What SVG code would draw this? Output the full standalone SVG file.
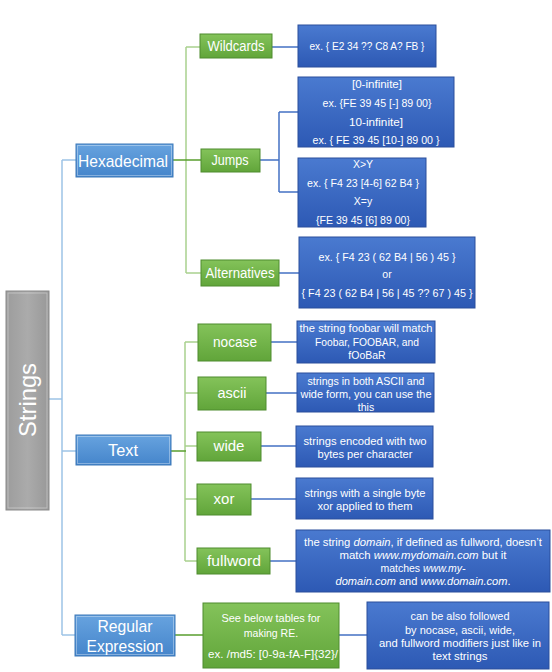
<svg xmlns="http://www.w3.org/2000/svg" width="552" height="672" viewBox="0 0 552 672">
<defs>
<linearGradient id="gBlue" x1="0" y1="0" x2="0" y2="1"><stop offset="0" stop-color="#4a7ad0"/><stop offset="1" stop-color="#2d59b4"/></linearGradient>
<linearGradient id="gLBlue" x1="0" y1="0" x2="0" y2="1"><stop offset="0" stop-color="#67a3df"/><stop offset="1" stop-color="#4585cb"/></linearGradient>
<linearGradient id="gGreen" x1="0" y1="0" x2="0" y2="1"><stop offset="0" stop-color="#84c35a"/><stop offset="1" stop-color="#61a53a"/></linearGradient>
<linearGradient id="gGray" x1="0" y1="0" x2="1" y2="0"><stop offset="0" stop-color="#9c9c9c"/><stop offset="0.5" stop-color="#ababab"/><stop offset="1" stop-color="#989898"/></linearGradient>
</defs>
<style>
text{font-family:"Liberation Sans",Arial,sans-serif;fill:#fff;text-anchor:middle}
.ex{fill:url(#gBlue);stroke:#2a4f9c;stroke-width:1}
.l1{fill:url(#gLBlue);stroke:#3d78b8;stroke-width:1}
.gr{fill:url(#gGreen);stroke:#4f8c2e;stroke-width:1}
.hl{fill:none;stroke:#ffffff;stroke-opacity:0.35;stroke-width:1}
.sm{font-size:10.5px}
.gl{font-size:14px}
.cb{fill:none;stroke:#9dc3e6;stroke-width:1.5}
.cg{fill:none;stroke:#a9d18e;stroke-width:1.5}
.cd{fill:none;stroke:#5a9e2f;stroke-width:1.5}
.cx{fill:none;stroke:#4472c4;stroke-width:1.5}
</style>
<g id="connectors">
<path class="cb" d="M49 399H62M62 160V635M62 160H76M62 451H76M62 635H75"/>
<path class="cg" d="M186 47V273M186 47H200M186 273H201M185 342V561M185 342H198M185 393H198M185 446H197M185 499H197M185 561H197"/>
<path class="cd" d="M173 160H201M171 451H186M175 635H203"/>
<path class="cx" d="M272 47H298M260 160H279M279 112V192M279 112H298M279 192H298M279 273H299M271 342H297M266 393H297M261 446H296M251 499H296M270 561H296M339 635H367"/>
</g>
<g id="strings">
<rect x="6" y="291" width="43" height="219" fill="url(#gGray)" stroke="#8a8a8a"/>
<rect x="8" y="293" width="39" height="215" class="hl"/>
<text transform="translate(36 400) rotate(-90)" font-size="24" textLength="74" lengthAdjust="spacingAndGlyphs">Strings</text>
</g>
<g id="hexadecimal">
<rect x="76" y="144" width="97" height="33" class="l1"/>
<rect x="77.5" y="145.5" width="94" height="30" class="hl"/>
<text x="123" y="167" font-size="17" textLength="90" lengthAdjust="spacingAndGlyphs">Hexadecimal</text>
</g>
<g id="text">
<rect x="76" y="435" width="95" height="30" class="l1"/>
<rect x="77.5" y="436.5" width="92" height="27" class="hl"/>
<text x="123" y="456" font-size="17" textLength="30" lengthAdjust="spacingAndGlyphs">Text</text>
</g>
<g id="regex">
<rect x="75" y="615" width="100" height="41" class="l1"/>
<rect x="76.5" y="616.5" width="97" height="38" class="hl"/>
<text x="125" y="632" font-size="17" textLength="55" lengthAdjust="spacingAndGlyphs">Regular</text>
<text x="125" y="652" font-size="17" textLength="77" lengthAdjust="spacingAndGlyphs">Expression</text>
</g>
<g id="wildcards">
<rect x="200" y="34" width="72" height="24" class="gr"/>
<text x="236" y="51" class="gl" textLength="57" lengthAdjust="spacingAndGlyphs">Wildcards</text>
</g>
<g id="wildcards-ex">
<rect x="298" y="25" width="138" height="42" class="ex"/>
<text x="367" y="50" class="sm" textLength="115" lengthAdjust="spacingAndGlyphs">ex. { E2 34 ?? C8 A? FB }</text>
</g>
<g id="jumps">
<rect x="201" y="149" width="59" height="23" class="gr"/>
<text x="230" y="165" class="gl" textLength="37" lengthAdjust="spacingAndGlyphs">Jumps</text>
</g>
<g id="jumps-ex1">
<rect x="298" y="77" width="156" height="70" class="ex"/>
<text x="377" y="88" class="sm" textLength="50" lengthAdjust="spacingAndGlyphs">[0-infinite]</text>
<text x="377" y="107" class="sm" textLength="109" lengthAdjust="spacingAndGlyphs">ex. {FE 39 45 [-] 89 00}</text>
<text x="376" y="126" class="sm" textLength="54" lengthAdjust="spacingAndGlyphs">10-infinite]</text>
<text x="376" y="144" class="sm" textLength="127" lengthAdjust="spacingAndGlyphs">ex. { FE 39 45 [10-] 89 00 }</text>
</g>
<g id="jumps-ex2">
<rect x="298" y="158" width="128" height="69" class="ex"/>
<text x="363" y="168" class="sm">X&gt;Y</text>
<text x="363" y="187" class="sm" textLength="112" lengthAdjust="spacingAndGlyphs">ex. { F4 23 [4-6] 62 B4 }</text>
<text x="363" y="205" class="sm">X=y</text>
<text x="363" y="224" class="sm" textLength="94" lengthAdjust="spacingAndGlyphs">{FE 39 45 [6] 89 00}</text>
</g>
<g id="alternatives">
<rect x="201" y="260" width="78" height="26" class="gr"/>
<text x="240" y="278" class="gl" textLength="69" lengthAdjust="spacingAndGlyphs">Alternatives</text>
</g>
<g id="alternatives-ex">
<rect x="299" y="237" width="176" height="71" class="ex"/>
<text x="387" y="261" class="sm" textLength="137" lengthAdjust="spacingAndGlyphs">ex. { F4 23 ( 62 B4 | 56 ) 45 }</text>
<text x="387" y="278" class="sm">or</text>
<text x="387" y="297" class="sm" textLength="171" lengthAdjust="spacingAndGlyphs">{ F4 23 ( 62 B4 | 56 | 45 ?? 67 ) 45 }</text>
</g>
<g id="nocase">
<rect x="198" y="324" width="73" height="37" class="gr"/>
<text x="235" y="347" font-size="15" textLength="44" lengthAdjust="spacingAndGlyphs">nocase</text>
</g>
<g id="nocase-desc">
<rect x="297" y="321" width="138" height="42" class="ex"/>
<text x="366" y="332" class="sm" textLength="133" lengthAdjust="spacingAndGlyphs">the string foobar will match</text>
<text x="367" y="346" class="sm" textLength="104" lengthAdjust="spacingAndGlyphs">Foobar, FOOBAR, and</text>
<text x="367" y="359" class="sm">fOoBaR</text>
</g>
<g id="ascii">
<rect x="198" y="377" width="68" height="33" class="gr"/>
<text x="232" y="398" font-size="15" textLength="29" lengthAdjust="spacingAndGlyphs">ascii</text>
</g>
<g id="ascii-desc">
<rect x="297" y="373" width="137" height="39" class="ex"/>
<text x="366" y="385" class="sm" textLength="117" lengthAdjust="spacingAndGlyphs">strings in both ASCII and</text>
<text x="366" y="398" class="sm" textLength="131" lengthAdjust="spacingAndGlyphs">wide form, you can use the</text>
<text x="366" y="411" class="sm">this</text>
</g>
<g id="wide">
<rect x="197" y="432" width="64" height="29" class="gr"/>
<text x="229" y="451" font-size="15" textLength="31" lengthAdjust="spacingAndGlyphs">wide</text>
</g>
<g id="wide-desc">
<rect x="296" y="426" width="137" height="41" class="ex"/>
<text x="365" y="445" class="sm" textLength="123" lengthAdjust="spacingAndGlyphs">strings encoded with two</text>
<text x="365" y="458" class="sm" textLength="95" lengthAdjust="spacingAndGlyphs">bytes per character</text>
</g>
<g id="xor">
<rect x="197" y="484" width="54" height="31" class="gr"/>
<text x="224" y="504" font-size="15">xor</text>
</g>
<g id="xor-desc">
<rect x="296" y="478" width="137" height="41" class="ex"/>
<text x="365" y="497" class="sm" textLength="121" lengthAdjust="spacingAndGlyphs">strings with a single byte</text>
<text x="365" y="510" class="sm" textLength="95" lengthAdjust="spacingAndGlyphs">xor applied to them</text>
</g>
<g id="fullword">
<rect x="197" y="548" width="73" height="26" class="gr"/>
<text x="234" y="566" font-size="15" textLength="54" lengthAdjust="spacingAndGlyphs">fullword</text>
</g>
<g id="fullword-desc">
<rect x="296" y="530" width="254" height="62" class="ex"/>
<text x="423" y="546" class="sm" textLength="238" lengthAdjust="spacingAndGlyphs">the string <tspan font-style="italic">domain</tspan>, if defined as fullword, doesn’t</text>
<text x="423" y="559" class="sm" textLength="167" lengthAdjust="spacingAndGlyphs">match <tspan font-style="italic">www.mydomain.com</tspan>  but it</text>
<text x="423" y="572" class="sm">matches <tspan font-style="italic">www.my-</tspan></text>
<text x="423" y="585" class="sm" textLength="175" lengthAdjust="spacingAndGlyphs"><tspan font-style="italic">domain.com</tspan> and <tspan font-style="italic">www.domain.com</tspan>.</text>
</g>
<g id="regex-rule">
<rect x="203" y="603" width="136" height="65" class="gr"/>
<text x="271" y="622" class="sm" textLength="99" lengthAdjust="spacingAndGlyphs">See below tables for</text>
<text x="271" y="637" class="sm">making RE.</text>
<text x="273" y="658" class="sm" textLength="130" lengthAdjust="spacingAndGlyphs">ex. /md5:  [0-9a-fA-F]{32}/</text>
</g>
<g id="regex-desc">
<rect x="367" y="602" width="182" height="67" class="ex"/>
<text x="460" y="620" class="sm" textLength="99" lengthAdjust="spacingAndGlyphs">can be also followed</text>
<text x="460" y="634" class="sm" textLength="110" lengthAdjust="spacingAndGlyphs">by nocase, ascii, wide,</text>
<text x="460" y="647" class="sm" textLength="162" lengthAdjust="spacingAndGlyphs">and fullword modifiers just like in</text>
<text x="460" y="660" class="sm" textLength="55" lengthAdjust="spacingAndGlyphs">text strings</text>
</g>
</svg>
